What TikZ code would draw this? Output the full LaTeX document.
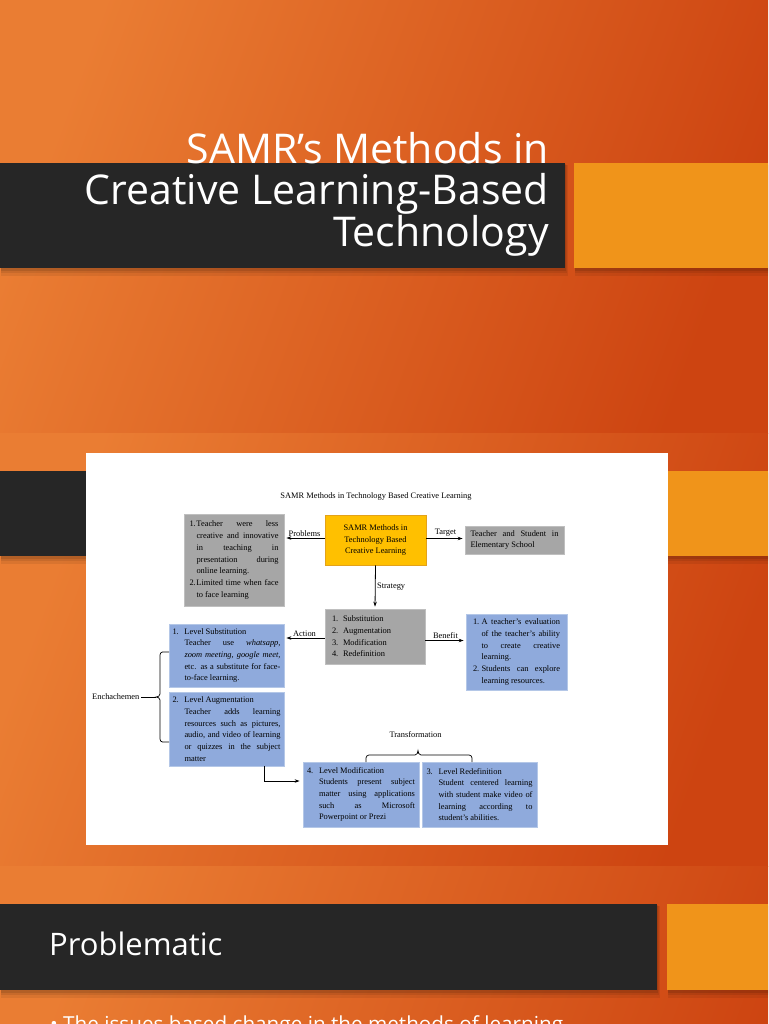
\documentclass[tikz,border=0pt]{standalone}
\usepackage{fontspec}
\setmainfont{Open Sans}
\newfontfamily\dser{Liberation Serif}
\usetikzlibrary{arrows.meta}
\definecolor{slidelight}{HTML}{EA7D33}
\definecolor{slidedark}{HTML}{CD4411}
\definecolor{barblack}{HTML}{262626}
\definecolor{barorange}{HTML}{F0941A}
\definecolor{boxgray}{HTML}{A6A6A6}
\definecolor{boxgrayline}{HTML}{BFBFBF}
\definecolor{boxyellow}{HTML}{FFC000}
\definecolor{boxyellowline}{HTML}{E3A21A}
\definecolor{boxblue}{HTML}{8FAADC}
\definecolor{boxblueline}{HTML}{B4C7E7}
\newcommand\diagfont{\dser\fontsize{8.4}{11.7}\selectfont}
\newcommand\numlab[2]{\noindent\llap{\makebox[#1][l]{#2}}}
% soft shadow below a bar: x1,y1,x2,y2
\newcommand\softshadow[4]{%
  \fill[black,opacity=0.07] (#1+1,#2+2) rectangle (#3+3,#4+8);
  \fill[black,opacity=0.08] (#1+1,#2+2) rectangle (#3+2,#4+5);
  \fill[black,opacity=0.10] (#1+1,#2+1) rectangle (#3+1,#4+3);
}
\begin{document}
\begin{tikzpicture}[x=1pt,y=-1pt,
 slide/.style={top color=slidelight, bottom color=slidedark, shading angle=70},
 ttl/.style={text=white, font=\fontsize{41}{41}\selectfont, inner sep=0pt, anchor=base east},
 box/.style={rectangle, line width=0.8pt, font=\diagfont, inner ysep=0pt,
   execute at begin node={\parindent=0pt\tolerance=10000\hbadness=10000\relax}},
 graybox/.style={box, draw=boxgrayline, fill=boxgray},
 bluebox/.style={box, draw=boxblueline, fill=boxblue, align=justify},
 yelbox/.style={box, draw=boxyellowline, fill=boxyellow, align=center},
 lbl/.style={font=\diagfont, inner sep=1.5pt},
 arr/.style={-{Stealth[length=5pt,width=3.5pt]}, line width=0.8pt, shorten >=2pt},
 brace/.style={line width=0.7pt},
]
\useasboundingbox (0,0) rectangle (768,1024);
\clip (0,0) rectangle (768,1024);
% slide backgrounds
\shade[slide] (0,0) rectangle (768,433);
\shade[slide] (0,433) rectangle (768,866);
\shade[slide] (0,866) rectangle (768,1299);
% slide 1
\softshadow{0}{163}{565}{268}
\softshadow{574}{163}{768}{268}
\fill[barblack] (0,163) rectangle (565,268);
\fill[barorange] (574,163) rectangle (768,268);
\node[ttl] (t1) at (549,163.3) {SAMR’s Methods in};
\node[ttl] (t2) at (549,205) {Creative Learning-Based};
\node[ttl] (t3) at (549,246.7) {Technology};
% slide 2
\softshadow{0}{471}{560}{556}
\softshadow{660}{471}{768}{556}
\fill[barblack] (0,471) rectangle (560,556);
\fill[barorange] (660,471) rectangle (768,556);
\fill[white] (86,453) rectangle (668,845);
\node[lbl] (dtitle) at (376,496) {SAMR Methods in Technology Based Creative Learning};
\node[yelbox, minimum width=101pt, minimum height=50pt] (core) at (375.5,540)
  {SAMR Methods in\\Technology Based\\Creative Learning};
\node[graybox, align=justify, text width=89pt, inner xsep=5.5pt, minimum height=92pt] (prob) at (234,560)
  {\leftskip=7pt
   \numlab{7pt}{1.}Teacher were less\linebreak creative and innovative\linebreak in teaching in\linebreak presentation during\linebreak online learning.\par
   \numlab{7pt}{2.}Limited time when face\linebreak to face learning\par};
\node[graybox, align=justify, text width=88pt, inner xsep=5.5pt, minimum height=28pt] (tgt) at (514.5,540)
  {Teacher and Student in\linebreak Elementary School};
\node[graybox, align=left, text width=86pt, inner xsep=7pt, minimum height=55pt] (strat) at (375,636.5)
  {\leftskip=11pt
   \numlab{11pt}{1.}Substitution\par
   \numlab{11pt}{2.}Augmentation\par
   \numlab{11pt}{3.}Modification\par
   \numlab{11pt}{4.}Redefinition\par};
\node[bluebox, text width=87pt, inner xsep=7pt, minimum height=76pt] (ben) at (516.5,652)
  {\leftskip=8.5pt
   \numlab{8.5pt}{1.}A teacher’s evaluation\linebreak of the teacher’s ability\linebreak to create creative\linebreak learning.\par
   \numlab{8.5pt}{2.}Students can explore\linebreak learning resources.\par};
\node[bluebox, text width=108pt, inner xsep=3.5pt, minimum height=63pt] (sub) at (226.5,655.5)
  {\leftskip=12pt
   \numlab{12pt}{1.}Level Substitution\par
   Teacher use \textit{whatsapp,}\linebreak \textit{zoom meeting, google meet,}\linebreak etc. as a substitute for face-\linebreak to-face learning.\par};
\node[bluebox, text width=108pt, inner xsep=3.5pt, minimum height=74pt] (aug) at (226.5,729)
  {\leftskip=12pt
   \numlab{12pt}{2.}Level Augmentation\par
   Teacher adds learning\linebreak resources such as pictures,\linebreak audio, and video of learning\linebreak or quizzes in the subject\linebreak matter\par};
\node[bluebox, text width=108pt, inner xsep=4pt, minimum height=65pt] (mod) at (361,794.5)
  {\leftskip=12pt
   \numlab{12pt}{4.}Level Modification\par
   Students present subject\linebreak matter using applications\linebreak such as Microsoft\linebreak Powerpoint or Prezi\par};
\node[bluebox, text width=106pt, inner xsep=4.5pt, minimum height=65pt] (red) at (479.5,794.5)
  {\leftskip=12pt
   \numlab{12pt}{3.}Level Redefinition\par
   Student centered learning\linebreak with student make video of\linebreak learning according to\linebreak student’s abilities.\par};
% connectors
\coordinate (pa) at ([yshift=2pt]core.west);
\draw[arr] (pa) -- node[lbl, above] (lprob) {Problems} (pa -| prob.east);
\coordinate (ta) at ([yshift=1.5pt]core.east);
\draw[arr] (ta) -- node[lbl, above] (ltgt) {Target} (ta -| tgt.west);
\draw[arr] (core.south) -- node[lbl, right] (lstr) {Strategy} (strat.north);
\coordinate (aa) at ([yshift=-1.5pt]strat.west);
\draw[arr] (aa) -- node[lbl, above] (lact) {Action} (aa -| sub.east);
\coordinate (ba) at ([yshift=-4pt]strat.east);
\draw[arr] (ba) -- node[lbl, above] (lben) {Benefit} (ba -| ben.west);
\draw[arr, shorten >=3pt] ([xshift=37.5pt]aug.south) |- ([yshift=13.5pt]mod.west);
% enhancement brace
\node[lbl, anchor=east] (enh) at (141,697) {Enchachemen};
\coordinate (bt) at (169,652);
\coordinate (bm) at (156,697);
\coordinate (bb) at (169,742);
\draw[brace] (bt) -- (162.5,652) to[out=180,in=90] (160,655) -- (160,694)
  to[out=-90,in=0] (bm) to[out=0,in=90] (160,700) -- (160,739)
  to[out=-90,in=180] (162.5,742) -- (bb);
\draw[brace] (enh.east) -- (bm);
% transformation brace
\node[lbl] (trans) at (415.5,735) {Transformation};
\coordinate (tl) at (366,762);
\coordinate (tm) at (418,750.5);
\coordinate (tr) at (472,762);
\draw[brace] (tl) -- (366,758) to[out=90,in=180] (369,755) -- (415,755)
  to[out=0,in=-90] (tm) to[out=-90,in=180] (421,755) -- (469,755)
  to[out=0,in=90] (472,758) -- (tr);
% slide 3
\softshadow{0}{904}{657}{990}
\softshadow{667}{904}{768}{990}
\fill[barblack] (0,904) rectangle (657,990);
\fill[barorange] (667,904) rectangle (768,990);
\node[text=white, font=\fontsize{31}{31}\selectfont, inner sep=0pt, anchor=base west] (prbl) at (49,955.7) {Problematic};
\node[text=white, font=\fontsize{20.7}{20.7}\selectfont, inner sep=0pt, anchor=base west] (bul) at (50,1031.5)
  {\makebox[13pt][l]{•}The issues based change in the methods of learning};
\end{tikzpicture}
\end{document}
